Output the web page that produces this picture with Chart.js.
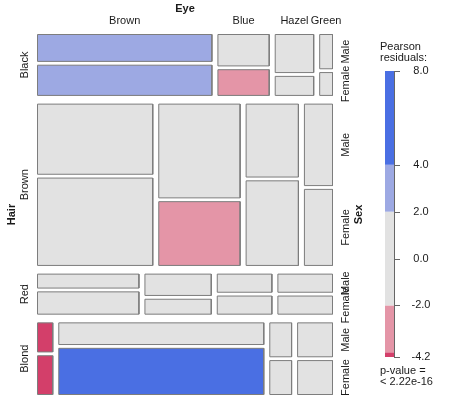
<!DOCTYPE html>
<html>
<head>
<meta charset="utf-8">
<script src="https://cdn.jsdelivr.net/npm/chart.js@4"></script>
<style>
  body { margin: 0; background: #fff; }
  canvas { display: block; }
</style>
</head>
<body>
<canvas id="mosaic" width="474" height="411"></canvas>
<script>
// Hair x Eye x Sex mosaic, shaded by Pearson residuals

const hairLevels = ["Black", "Brown", "Red", "Blond"];
const eyeLevels = ["Brown", "Blue", "Hazel", "Green"];
const sexLevels = ["Male", "Female"];

// counts [hair][eye]
const maleCounts = [
  [32, 11, 10, 3],
  [53, 50, 25, 15],
  [10, 10, 7, 7],
  [3, 30, 5, 8]
];
const femaleCounts = [
  [36, 9, 5, 2],
  [66, 34, 29, 14],
  [16, 7, 7, 7],
  [4, 64, 5, 8]
];

// residuals read off the shading (estimates)
const maleResid = [
  [2.3, -1.7, 0.5, -1.0],
  [0.8, -0.6, 1.0, 0.3],
  [-0.4, -0.5, 0.3, 1.0],
  [-4.2, 1.9, -1.0, 0.1]
];
const femaleResid = [
  [3.9, -2.3, -0.8, -1.2],
  [1.9, -2.2, 1.7, 0.0],
  [0.7, -1.3, 0.3, 1.0],
  [-4.1, 8.0, -1.4, 0.0]
];

const legendTicks = [8.0, 4.0, 2.0, 0.0, -2.0, -4.2];
const shadeBreaks = [-4, -2, 2, 4];
const pValueText = ["p-value =", "< 2.22e-16"];

// ----------------------------------
// layout (mosaic units ~ px)
// ----------------------------------
const W = 295, H = 360;
const hairGap = 8.7, eyeGap = 6, sexGap = 3.8;

const shadeColors = ["#D33F6A", "#E495A7", "#E2E2E2", "#9DA9E3", "#4A6FE3"];
function shade(r) {
  let i = 0;
  while (i < shadeBreaks.length && r > shadeBreaks[i]) i++;
  return shadeColors[i];
}

const total = maleCounts.flat().concat(femaleCounts.flat()).reduce((a, b) => a + b, 0);
const tiles = [];
let yPos = 0;
const availH = H - hairGap * (hairLevels.length - 1);
hairLevels.forEach((h, hi) => {
  const eyeTot = eyeLevels.map((e, ei) => maleCounts[hi][ei] + femaleCounts[hi][ei]);
  const rowTot = eyeTot.reduce((a, b) => a + b, 0);
  const rowH = rowTot / total * availH;
  const availW = W - eyeGap * (eyeLevels.length - 1);
  let xPos = 0;
  eyeLevels.forEach((e, ei) => {
    const cw = eyeTot[ei] / rowTot * availW;
    const cellH = rowH - sexGap;
    const mH = maleCounts[hi][ei] / eyeTot[ei] * cellH;
    tiles.push({ hi, ei, si: 0, x0: xPos, x1: xPos + cw, y0: yPos, y1: yPos + mH, r: maleResid[hi][ei] });
    tiles.push({ hi, ei, si: 1, x0: xPos, x1: xPos + cw, y0: yPos + mH + sexGap, y1: yPos + rowH, r: femaleResid[hi][ei] });
    xPos += cw + eyeGap;
  });
  yPos += rowH + hairGap;
});

const datasets = tiles.map(t => ({
  data: [
    { x: t.x0, y: t.y0 }, { x: t.x1, y: t.y0 },
    { x: t.x1, y: t.y1 }, { x: t.x0, y: t.y1 }, { x: t.x0, y: t.y0 }
  ],
  showLine: true,
  fill: "shape",
  backgroundColor: shade(t.r),
  borderColor: "#7d7d7d",
  borderWidth: 1,
  pointRadius: 0,
  tension: 0,
  clip: false
}));

const FONT = '"Liberation Sans", Arial, sans-serif';

function rotText(ctx, txt, x, y) {
  ctx.save();
  ctx.translate(x, y);
  ctx.rotate(-Math.PI / 2);
  ctx.fillText(txt, 0, 0);
  ctx.restore();
}

// ----------------------------------
// labels + residual legend
// ----------------------------------
const mosaicLabels = {
  id: "mosaicLabels",
  afterDraw(chart) {
    const { ctx, scales: { x, y } } = chart;
    ctx.save();
    ctx.fillStyle = "#1a1a1a";
    ctx.textAlign = "center";
    ctx.textBaseline = "middle";

    // variable names
    ctx.font = "bold 11px " + FONT;
    ctx.fillText("Eye", x.getPixelForValue(W / 2), 9);
    rotText(ctx, "Hair", 12, y.getPixelForValue(H / 2));
    rotText(ctx, "Sex", 359, y.getPixelForValue(H / 2));

    ctx.font = "11px " + FONT;
    // eye levels over the first row
    tiles.filter(t => t.hi === 0 && t.si === 0).forEach(t => {
      ctx.fillText(eyeLevels[t.ei], x.getPixelForValue((t.x0 + t.x1) / 2), 21);
    });
    // hair levels
    hairLevels.forEach((h, hi) => {
      const row = tiles.filter(t => t.hi === hi);
      const y0 = Math.min(...row.map(t => t.y0));
      const y1 = Math.max(...row.map(t => t.y1));
      rotText(ctx, h, 25, y.getPixelForValue((y0 + y1) / 2));
    });
    // sex levels beside the last column
    tiles.filter(t => t.ei === eyeLevels.length - 1).forEach(t => {
      rotText(ctx, sexLevels[t.si], 346, y.getPixelForValue((t.y0 + t.y1) / 2));
    });

    // legend
    const lgTop = 71, lgBottom = 357, bx0 = 385, bx1 = 394;
    const vMax = legendTicks[0], vMin = legendTicks[legendTicks.length - 1];
    const ly = v => lgTop + (vMax - v) / (vMax - vMin) * (lgBottom - lgTop);
    const edges = [vMin].concat(shadeBreaks, [vMax]);
    for (let i = 0; i < edges.length - 1; i++) {
      ctx.fillStyle = shadeColors[i];
      ctx.fillRect(bx0, ly(edges[i + 1]), bx1 - bx0, ly(edges[i]) - ly(edges[i + 1]));
    }
    ctx.strokeStyle = "#666";
    ctx.lineWidth = 1;
    ctx.beginPath();
    ctx.moveTo(bx1 + 0.5, ly(vMax));
    ctx.lineTo(bx1 + 0.5, ly(vMin));
    legendTicks.forEach(v => {
      const py = Math.round(ly(v)) + 0.5;
      ctx.moveTo(bx1, py);
      ctx.lineTo(bx1 + 6, py);
    });
    ctx.stroke();

    ctx.fillStyle = "#1a1a1a";
    legendTicks.forEach(v => ctx.fillText(v.toFixed(1), 421, ly(v)));

    ctx.textAlign = "left";
    ctx.fillText("Pearson", 380, 47);
    ctx.fillText("residuals:", 380, 58);
    ctx.fillText(pValueText[0], 380, 371);
    ctx.fillText(pValueText[1], 380, 382);
    ctx.restore();
  }
};

new Chart(document.getElementById("mosaic"), {
  type: "scatter",
  data: { datasets },
  options: {
    responsive: false,
    animation: false,
    layout: { padding: { left: 37.5, top: 34.5, right: 474 - 37.5 - W, bottom: 411 - 34.5 - H } },
    scales: {
      x: { type: "linear", min: 0, max: W, display: false },
      y: { type: "linear", min: 0, max: H, reverse: true, display: false }
    },
    plugins: {
      legend: { display: false },
      tooltip: { enabled: false }
    }
  },
  plugins: [mosaicLabels]
});
</script>
</body>
</html>
